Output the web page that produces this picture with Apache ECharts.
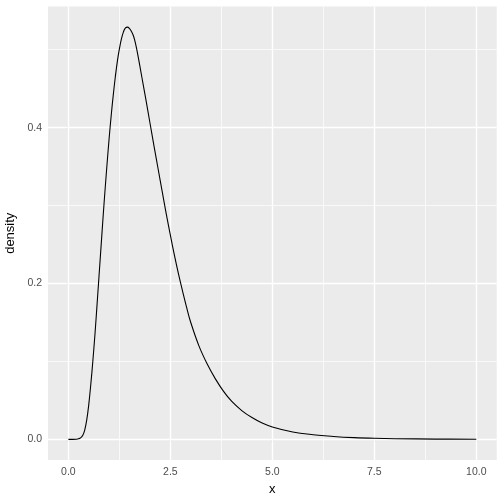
<!DOCTYPE html>
<html>
<head>
<meta charset="utf-8">
<script src="https://cdn.jsdelivr.net/npm/echarts@6/dist/echarts.min.js"></script>
<style>html,body{margin:0;padding:0;background:#fff}#c{width:504px;height:504px}</style>
</head>
<body>
<div id="c"></div>
<script>
// values
var xValues = [0, 0.1, 0.2, 0.25, 0.3, 0.35, 0.4, 0.45, 0.5, 0.55, 0.6, 0.65, 0.7, 0.75, 0.8, 0.85, 0.9, 0.95, 1.0, 1.05, 1.1, 1.15, 1.2, 1.25, 1.3, 1.35, 1.4, 1.45, 1.5, 1.55, 1.6, 1.65, 1.7, 1.8, 1.9, 2.0, 2.1, 2.2, 2.3, 2.4, 2.5, 2.6, 2.7, 2.8, 2.9, 3.0, 3.2, 3.4, 3.6, 3.8, 4.0, 4.25, 4.5, 4.75, 5.0, 5.5, 6.0, 6.5, 7.0, 7.5, 8.0, 9.0, 10.0];
var densityValues = [0, 0, 0.0002, 0.0008, 0.002, 0.005, 0.012, 0.025, 0.045, 0.071, 0.101, 0.134, 0.171, 0.209, 0.247, 0.285, 0.321, 0.355, 0.387, 0.416, 0.442, 0.465, 0.485, 0.501, 0.514, 0.523, 0.528, 0.529, 0.527, 0.523, 0.517, 0.507, 0.494, 0.465, 0.436, 0.406, 0.376, 0.347, 0.318, 0.289, 0.262, 0.236, 0.212, 0.19, 0.169, 0.15, 0.12, 0.097, 0.078, 0.062, 0.049, 0.037, 0.028, 0.021, 0.016, 0.0095, 0.006, 0.0038, 0.0023, 0.0014, 0.0009, 0.0004, 0.0002];
var xTicks = [0, 2.5, 5, 7.5, 10];
var xMinor = [1.25, 3.75, 6.25, 8.75];
var yTicks = [0, 0.2, 0.4];
var yMinor = [0.1, 0.3, 0.5];

var points = xValues.map(function (x, i) { return [x, densityValues[i]]; });

var gridLines = [];
xMinor.forEach(function (v) { gridLines.push({ xAxis: v, lineStyle: { width: 0.7 } }); });
yMinor.forEach(function (v) { gridLines.push({ yAxis: v, lineStyle: { width: 0.7 } }); });
xTicks.forEach(function (v) { gridLines.push({ xAxis: v, lineStyle: { width: 1.4 } }); });
yTicks.forEach(function (v) { gridLines.push({ yAxis: v, lineStyle: { width: 1.4 } }); });

var chart = echarts.init(document.getElementById('c'), null, { renderer: 'canvas' });
chart.setOption({
  animation: false,
  backgroundColor: '#ffffff',
  grid: { left: 48, right: 7.3, top: 6.5, bottom: 44, show: true, backgroundColor: '#EBEBEB', borderWidth: 0,
    containLabel: false, outerBoundsMode: 'none' },
  xAxis: {
    type: 'value', min: -0.5, max: 10.5,
    name: 'x', nameLocation: 'middle', nameGap: 23,
    nameTextStyle: { color: '#000000', fontSize: 13, fontFamily: 'Liberation Sans' },
    axisLine: { show: false },
    splitLine: { show: false },
    axisTick: { show: true, customValues: xTicks, length: 3, lineStyle: { color: '#333333', width: 1.1 } },
    axisLabel: { customValues: xTicks, color: '#4D4D4D', fontSize: 10.5, fontFamily: 'Liberation Sans', margin: 7,
      formatter: function (v) { return v.toFixed(1); } }
  },
  yAxis: {
    type: 'value', min: -0.02645, max: 0.5555,
    name: 'density', nameLocation: 'middle', nameGap: 28,
    nameTextStyle: { color: '#000000', fontSize: 13, fontFamily: 'Liberation Sans' },
    axisLine: { show: false },
    splitLine: { show: false },
    axisTick: { show: true, customValues: yTicks, length: 3, lineStyle: { color: '#333333', width: 1.1 } },
    axisLabel: { customValues: yTicks, color: '#4D4D4D', fontSize: 10.5, fontFamily: 'Liberation Sans', margin: 6,
      formatter: function (v) { return v.toFixed(1); } }
  },
  series: [
    {
      type: 'line', data: points, showSymbol: false, silent: true, z: 1,
      lineStyle: { opacity: 0 },
      markLine: { silent: true, symbol: 'none', label: { show: false }, animation: false, z: 1,
        lineStyle: { color: '#FFFFFF', type: 'solid' }, data: gridLines }
    },
    {
      type: 'line', data: points, showSymbol: false, smooth: 0.4, z: 3,
      lineStyle: { color: '#000000', width: 1.1 }
    }
  ]
});
</script>
</body>
</html>
